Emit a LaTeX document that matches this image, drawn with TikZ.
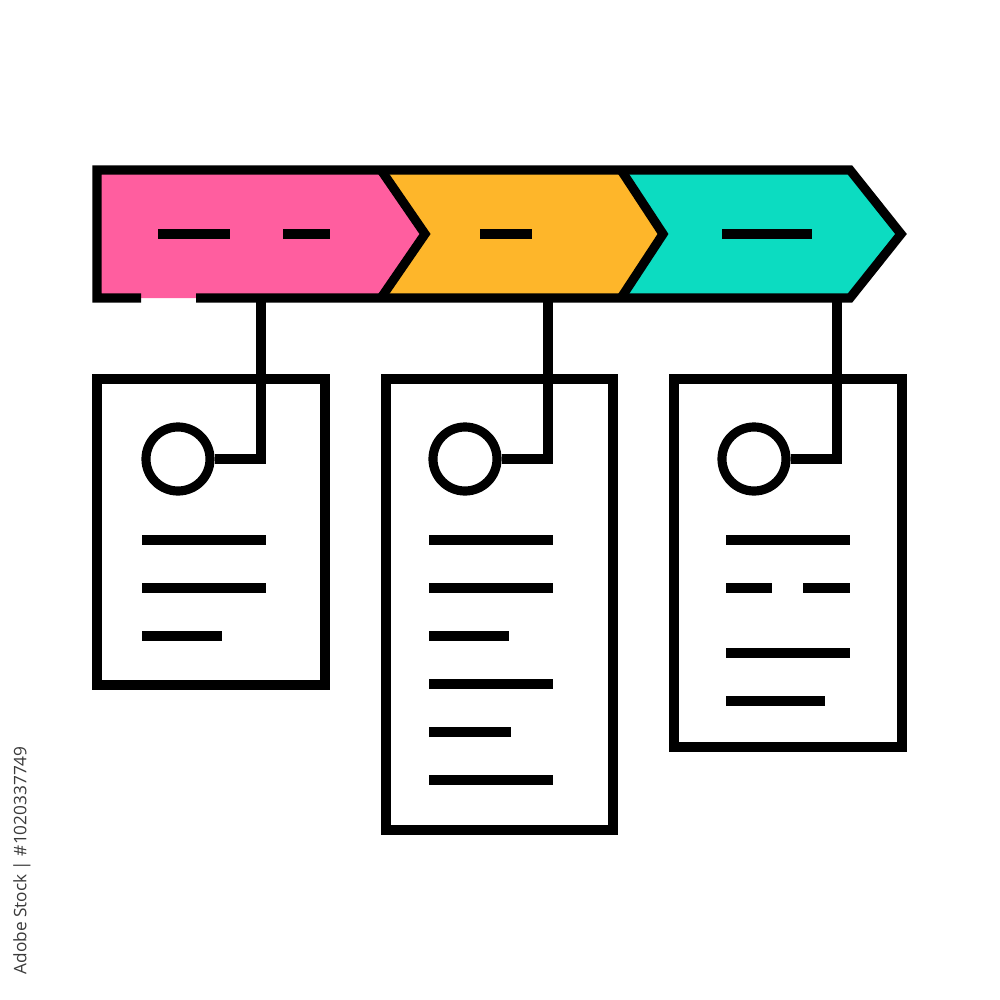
\documentclass[tikz,border=0pt]{standalone}
\usepackage{fontspec}
\newfontfamily\wmfont{Open Sans}
\definecolor{cpink}{HTML}{FF5E9F}
\definecolor{corange}{HTML}{FEB62A}
\definecolor{cteal}{HTML}{0CDCC1}
\definecolor{wmgray}{HTML}{3A3A3A}
\begin{document}
\begin{tikzpicture}[x=0.01cm,y=-0.01cm,
  stroke/.style={line width=2.6pt,draw=black,line join=miter,line cap=butt},
  txtline/.style={line width=2.6pt,line cap=butt},
  dot/.style={circle,draw=black,line width=2.6pt,minimum size=0.64cm,inner sep=0pt,fill=white},
  card/.style={line width=2.6pt,draw=black,fill=white}]
\useasboundingbox (0,0) rectangle (1000,1000);
% bar fills
\fill[cpink] (97,170) -- (381,170) -- (425,234) -- (381,298) -- (97,298) -- cycle;
\fill[corange] (381,170) -- (621,170) -- (663,234) -- (621,298) -- (381,298) -- (425,234) -- cycle;
\fill[cteal] (621,170) -- (850,170) -- (901,234) -- (850,298) -- (621,298) -- (663,234) -- cycle;
% bar outline
\draw[stroke] (141,298) -- (97,298) -- (97,170) -- (850,170) -- (901,234) -- (850,298) -- (196,298);
\draw[stroke] (381,170) -- (425,234) -- (381,298);
\draw[stroke] (621,170) -- (663,234) -- (621,298);
% bar dashes
\draw[txtline] (158,234) -- (230,234);
\draw[txtline] (283,234) -- (330,234);
\draw[txtline] (480,234) -- (532,234);
\draw[txtline] (722,234) -- (812,234);
% anchor points on bar
\coordinate (b1) at (261,298);
\coordinate (b2) at (548,298);
\coordinate (b3) at (837,298);
% cards
\draw[card] (97,379) rectangle (325,685);
\draw[card] (386,379) rectangle (613,830);
\draw[card] (674,379) rectangle (902,747);
% circles
\node[dot] (c1) at (178,459) {};
\node[dot] (c2) at (465,459) {};
\node[dot] (c3) at (754,459) {};
% connectors
\draw[stroke] (b1) |- (c1.east);
\draw[stroke] (b2) |- (c2.east);
\draw[stroke] (b3) |- (c3.east);
% card 1 text lines
\draw[txtline] (142,540) -- (266,540);
\draw[txtline] (142,588) -- (266,588);
\draw[txtline] (142,636) -- (222,636);
% card 2 text lines
\draw[txtline] (429,540) -- (553,540);
\draw[txtline] (429,588) -- (553,588);
\draw[txtline] (429,636) -- (509,636);
\draw[txtline] (429,684) -- (553,684);
\draw[txtline] (429,732) -- (511,732);
\draw[txtline] (429,780) -- (553,780);
% card 3 text lines
\draw[txtline] (726,540) -- (850,540);
\draw[txtline] (726,588) -- (772,588);
\draw[txtline] (803,588) -- (850,588);
\draw[txtline] (726,653) -- (850,653);
\draw[txtline] (726,701) -- (825,701);
% watermark text
\node[rotate=90,anchor=west,inner sep=0pt,text=wmgray,font=\wmfont\fontsize{4.9pt}{5pt}\selectfont] (wm) at (22,975) {Adobe Stock | \#1020337749};
\end{tikzpicture}
\end{document}
